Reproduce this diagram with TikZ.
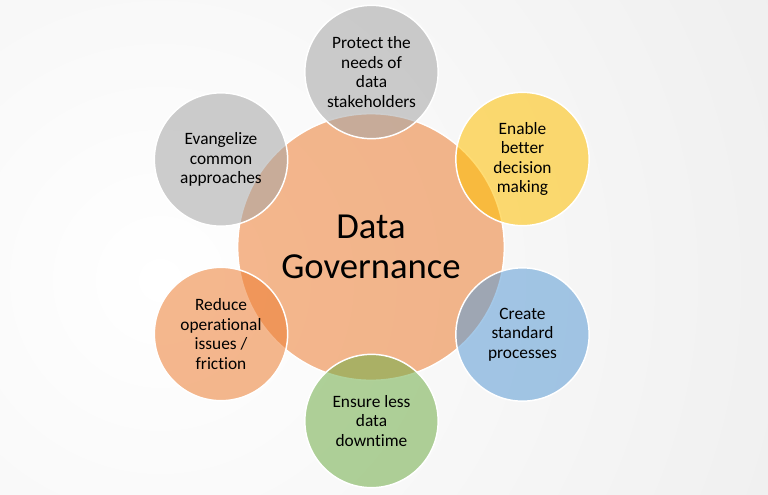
\documentclass[tikz,border=0pt]{standalone}
\usepackage{fontspec}
\setmainfont{Carlito}[Ligatures=CommonOff]
\definecolor{bgGray}{RGB}{224,224,224}
\definecolor{cOrange}{HTML}{ED7D31}
\definecolor{cGray}{HTML}{A5A5A5}
\definecolor{cYellow}{HTML}{FFC000}
\definecolor{cBlue}{HTML}{5B9BD5}
\definecolor{cGreen}{HTML}{70AD47}
\tikzset{
  bubble/.style={circle, minimum size=100pt, inner sep=0pt, draw=white,
    line width=1.1pt, fill opacity=0.55, text opacity=1, align=center,
    text=black, font=\fontsize{13}{14.6}\selectfont},
  hub/.style={bubble, minimum size=200pt, font=\fontsize{27.5}{30}\selectfont}
}
\begin{document}
\begin{tikzpicture}[x=0.75pt,y=-0.75pt]
\useasboundingbox (0,0) rectangle (768,494);
\begin{scope}
  \clip (0,0) rectangle (768,494);
  \fill[bgGray] (0,0) rectangle (768,494);
  \shade[inner color=white, outer color=bgGray] (160,280) circle[radius=1000pt];
\end{scope}
\node[hub, fill=cOrange] (hub) at (371,247) {Data\\Governance};
\node[bubble, fill=cGray] (protect) at (371.5,72) {Protect the\\needs of\\data\\stakeholders};
\node[bubble, fill=cYellow] (enable) at (522.5,159) {Enable\\better\\decision\\making};
\node[bubble, fill=cBlue] (create) at (522.5,334.5) {Create\\standard\\processes};
\node[bubble, fill=cGreen] (ensure) at (371.5,421) {Ensure less\\data\\downtime};
\node[bubble, fill=cOrange] (reduce) at (221,334) {Reduce\\operational\\issues /\\friction};
\node[bubble, fill=cGray] (evang) at (221,159.5) {Evangelize\\common\\approaches};
\end{tikzpicture}
\end{document}
